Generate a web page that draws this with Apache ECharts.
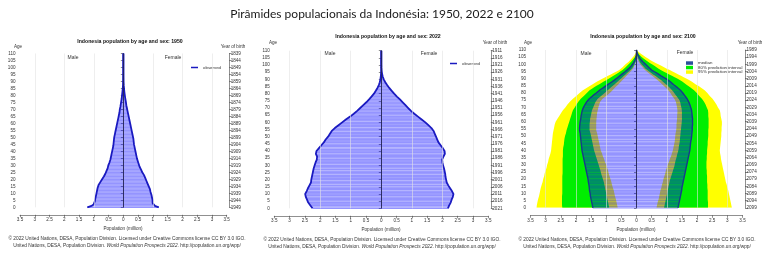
<!DOCTYPE html>
<html><head><meta charset="utf-8">
<script src="https://cdn.jsdelivr.net/npm/echarts@6/dist/echarts.min.js"></script>
<style>html,body{margin:0;padding:0;background:#fff}#c{width:768px;height:253px}</style>
</head><body><div id="c"></div><script>
// ---------- tick labels ----------
const AGE_LABELS = Array.from({length:111}, (_, a) => String(a));
const YEARS = [1950, 2022, 2100];
const X_TICK_MIN = -3.5, X_TICK_MAX = 3.5, X_TICK_STEP = 0.5;
const GRID_VALUES = [-3, -2, -1, 1, 2, 3];

// ---------- data (million), ages 0..110 ----------
const male1950 = [
1.22,1.08,1.01,0.98,0.97,0.96,0.95,0.94,0.93,0.92,
0.91,0.90,0.89,0.88,0.87,0.86,0.84,0.81,0.78,0.75,
0.72,0.69,0.66,0.63,0.61,0.59,0.57,0.55,0.53,0.52,
0.51,0.49,0.47,0.46,0.44,0.43,0.42,0.41,0.40,0.39,
0.38,0.37,0.36,0.35,0.34,0.34,0.33,0.33,0.32,0.32,
0.31,0.30,0.29,0.28,0.27,0.26,0.25,0.24,0.23,0.22,
0.21,0.20,0.19,0.18,0.17,0.16,0.15,0.14,0.13,0.125,
0.12,0.11,0.10,0.092,0.085,0.078,0.07,0.062,0.055,0.05,
0.045,0.04,0.034,0.029,0.024,0.02,0.016,0.013,0.01,0.009,
0.008,0.006,0.005,0.004,0.003,0.002,0.0015,0.001,0.001,0.0005,
0.0005,0,0,0,0,0,0,0,0,0,0];
const female1950 = [
1.20,1.07,1.01,0.99,0.99,0.99,0.98,0.97,0.96,0.95,
0.93,0.92,0.91,0.90,0.88,0.86,0.84,0.82,0.80,0.78,
0.76,0.74,0.72,0.70,0.67,0.64,0.62,0.60,0.57,0.55,
0.53,0.52,0.50,0.49,0.47,0.46,0.45,0.44,0.43,0.42,
0.41,0.40,0.39,0.38,0.37,0.36,0.35,0.35,0.34,0.34,
0.33,0.32,0.31,0.30,0.29,0.28,0.27,0.26,0.25,0.24,
0.23,0.22,0.21,0.20,0.19,0.18,0.17,0.16,0.15,0.14,
0.13,0.12,0.11,0.10,0.095,0.088,0.08,0.072,0.064,0.057,
0.05,0.044,0.038,0.032,0.027,0.023,0.019,0.015,0.012,0.01,
0.008,0.007,0.005,0.004,0.003,0.002,0.0015,0.001,0.001,0.0005,
0.0005,0,0,0,0,0,0,0,0,0,0];
const male2022 = [
2.25,2.28,2.32,2.36,2.39,2.41,2.43,2.45,2.47,2.48,
2.49,2.47,2.44,2.42,2.40,2.38,2.35,2.32,2.30,2.29,
2.29,2.28,2.27,2.26,2.25,2.24,2.23,2.22,2.21,2.19,
2.18,2.17,2.15,2.13,2.11,2.09,2.10,2.12,2.14,2.13,
2.12,2.08,2.04,2.00,1.96,1.92,1.88,1.85,1.82,1.78,
1.74,1.71,1.68,1.65,1.62,1.58,1.52,1.46,1.40,1.34,
1.28,1.22,1.16,1.09,1.02,0.96,0.90,0.84,0.79,0.74,
0.69,0.64,0.59,0.54,0.49,0.44,0.40,0.36,0.32,0.28,
0.24,0.21,0.18,0.15,0.125,0.10,0.08,0.065,0.05,0.04,
0.03,0.022,0.016,0.012,0.009,0.006,0.004,0.003,0.002,0.001,
0.001,0,0,0,0,0,0,0,0,0,0];
const female2022 = [
2.18,2.20,2.22,2.25,2.27,2.28,2.30,2.32,2.34,2.35,
2.36,2.34,2.31,2.28,2.25,2.22,2.19,2.16,2.14,2.12,
2.12,2.11,2.10,2.10,2.09,2.08,2.07,2.06,2.05,2.03,
2.02,2.01,2.00,1.99,1.99,2.00,2.03,2.06,2.08,2.08,
2.07,2.04,2.01,1.98,1.94,1.90,1.87,1.85,1.83,1.81,
1.79,1.77,1.75,1.73,1.71,1.68,1.64,1.59,1.54,1.49,
1.44,1.38,1.32,1.26,1.20,1.14,1.08,1.02,0.97,0.92,
0.88,0.84,0.79,0.75,0.70,0.65,0.61,0.56,0.51,0.47,
0.42,0.38,0.34,0.30,0.26,0.22,0.19,0.16,0.13,0.10,
0.08,0.06,0.045,0.034,0.025,0.018,0.012,0.008,0.005,0.003,
0.002,0,0,0,0,0,0,0,0,0,0];
// 2100 projection: median and prediction intervals
const male2100 = [
1.44,1.45,1.46,1.47,1.48,1.49,1.50,1.51,1.52,1.52,
1.53,1.54,1.55,1.55,1.56,1.57,1.57,1.58,1.59,1.59,
1.60,1.61,1.62,1.63,1.64,1.65,1.66,1.67,1.68,1.69,
1.70,1.71,1.72,1.73,1.74,1.75,1.76,1.77,1.78,1.79,
1.80,1.80,1.81,1.81,1.82,1.82,1.83,1.83,1.84,1.85,
1.85,1.86,1.86,1.87,1.88,1.88,1.88,1.87,1.87,1.86,
1.86,1.85,1.84,1.83,1.83,1.82,1.81,1.80,1.79,1.77,
1.75,1.73,1.70,1.67,1.64,1.61,1.56,1.51,1.45,1.39,
1.33,1.28,1.22,1.15,1.08,1.01,0.94,0.87,0.80,0.73,
0.67,0.61,0.55,0.49,0.43,0.37,0.31,0.26,0.21,0.17,
0.13,0.10,0.07,0.05,0.03,0.02,0.01,0.005,0,0,0];
const male80lo = [
0.90,0.91,0.92,0.93,0.94,0.95,0.96,0.97,0.98,0.99,
1.00,1.01,1.02,1.03,1.04,1.05,1.06,1.07,1.08,1.10,
1.11,1.12,1.14,1.15,1.17,1.18,1.19,1.21,1.22,1.24,
1.25,1.27,1.28,1.30,1.31,1.33,1.34,1.36,1.37,1.39,
1.40,1.41,1.42,1.43,1.44,1.45,1.46,1.47,1.48,1.49,
1.50,1.51,1.52,1.53,1.55,1.55,1.55,1.55,1.55,1.54,
1.54,1.54,1.53,1.52,1.51,1.50,1.49,1.48,1.47,1.45,
1.43,1.41,1.39,1.37,1.35,1.33,1.28,1.23,1.17,1.11,
1.05,1.00,0.95,0.89,0.84,0.78,0.73,0.68,0.62,0.57,
0.52,0.46,0.41,0.36,0.31,0.26,0.20,0.16,0.12,0.09,
0.07,0.05,0.03,0.02,0.01,0.005,0,0,0,0,0];
const male95lo = [
0.62,0.63,0.64,0.65,0.66,0.67,0.68,0.69,0.71,0.72,
0.73,0.74,0.75,0.77,0.78,0.79,0.81,0.82,0.83,0.85,
0.86,0.87,0.89,0.90,0.92,0.93,0.94,0.96,0.97,0.99,
1.00,1.02,1.04,1.06,1.07,1.09,1.11,1.13,1.14,1.16,
1.18,1.19,1.20,1.21,1.22,1.23,1.24,1.25,1.26,1.27,
1.28,1.29,1.30,1.31,1.33,1.33,1.33,1.33,1.33,1.33,
1.33,1.33,1.32,1.32,1.31,1.31,1.30,1.29,1.28,1.27,
1.26,1.24,1.23,1.21,1.20,1.18,1.12,1.06,1.00,0.94,
0.88,0.84,0.79,0.74,0.70,0.65,0.60,0.56,0.51,0.46,
0.42,0.37,0.33,0.28,0.24,0.19,0.15,0.12,0.09,0.07,
0.05,0.03,0.02,0.01,0.005,0,0,0,0,0,0];
const male80hi = [
2.45,2.46,2.46,2.46,2.46,2.46,2.46,2.46,2.46,2.45,
2.45,2.45,2.45,2.45,2.45,2.45,2.45,2.45,2.45,2.45,
2.45,2.45,2.45,2.45,2.44,2.44,2.44,2.44,2.44,2.44,
2.44,2.44,2.44,2.44,2.44,2.43,2.43,2.43,2.43,2.43,
2.43,2.42,2.42,2.41,2.40,2.40,2.39,2.38,2.38,2.37,
2.36,2.35,2.33,2.32,2.31,2.30,2.28,2.27,2.25,2.24,
2.22,2.21,2.19,2.18,2.16,2.15,2.13,2.12,2.10,2.07,
2.04,2.01,1.98,1.95,1.92,1.88,1.84,1.79,1.74,1.69,
1.64,1.60,1.55,1.47,1.40,1.32,1.24,1.16,1.08,1.00,
0.92,0.84,0.76,0.69,0.61,0.54,0.46,0.41,0.36,0.31,
0.26,0.21,0.17,0.13,0.09,0.05,0.02,0.01,0,0,0];
const male95hi = [
3.30,3.30,3.29,3.28,3.27,3.26,3.25,3.24,3.22,3.21,
3.20,3.19,3.18,3.17,3.16,3.14,3.13,3.12,3.10,3.09,
3.08,3.07,3.05,3.04,3.03,3.01,3.00,2.99,2.97,2.96,
2.95,2.94,2.92,2.91,2.90,2.88,2.87,2.86,2.84,2.83,
2.82,2.82,2.81,2.81,2.80,2.80,2.79,2.79,2.78,2.78,
2.77,2.76,2.76,2.75,2.74,2.73,2.72,2.71,2.70,2.69,
2.67,2.64,2.61,2.58,2.55,2.52,2.49,2.46,2.43,2.39,
2.35,2.31,2.28,2.24,2.20,2.16,2.10,2.04,1.99,1.93,
1.88,1.82,1.77,1.69,1.61,1.53,1.46,1.38,1.30,1.22,
1.13,1.03,0.94,0.85,0.76,0.66,0.57,0.52,0.46,0.41,
0.36,0.30,0.25,0.20,0.16,0.12,0.08,0.05,0.02,0,0];
const female2100 = [
1.37,1.38,1.39,1.40,1.41,1.42,1.43,1.44,1.45,1.46,
1.47,1.48,1.49,1.50,1.50,1.51,1.52,1.53,1.54,1.55,
1.56,1.57,1.58,1.59,1.60,1.61,1.62,1.63,1.64,1.65,
1.66,1.67,1.68,1.69,1.70,1.71,1.72,1.73,1.74,1.75,
1.76,1.77,1.77,1.78,1.78,1.79,1.79,1.80,1.81,1.81,
1.82,1.82,1.83,1.83,1.84,1.84,1.84,1.85,1.85,1.85,
1.85,1.85,1.85,1.84,1.84,1.84,1.83,1.83,1.82,1.81,
1.79,1.78,1.76,1.74,1.72,1.70,1.67,1.63,1.60,1.56,
1.53,1.49,1.45,1.39,1.34,1.28,1.22,1.17,1.11,1.05,
0.97,0.89,0.81,0.74,0.66,0.58,0.50,0.45,0.40,0.35,
0.30,0.25,0.20,0.15,0.12,0.09,0.06,0.04,0.02,0.01,0];
const female80lo = [
0.91,0.92,0.93,0.94,0.95,0.96,0.97,0.98,0.99,1.00,
1.01,1.02,1.03,1.04,1.05,1.06,1.07,1.08,1.09,1.10,
1.12,1.13,1.15,1.16,1.18,1.19,1.20,1.22,1.23,1.25,
1.26,1.27,1.28,1.29,1.31,1.32,1.33,1.34,1.35,1.37,
1.38,1.39,1.39,1.40,1.41,1.42,1.42,1.43,1.44,1.44,
1.45,1.45,1.46,1.46,1.47,1.47,1.48,1.48,1.49,1.49,
1.50,1.50,1.50,1.50,1.50,1.50,1.50,1.50,1.50,1.49,
1.48,1.47,1.46,1.45,1.44,1.42,1.39,1.35,1.32,1.28,
1.25,1.21,1.18,1.13,1.08,1.03,0.97,0.92,0.87,0.82,
0.75,0.68,0.62,0.55,0.48,0.42,0.35,0.30,0.26,0.21,
0.17,0.13,0.10,0.08,0.06,0.04,0.02,0.01,0,0,0];
const female95lo = [
0.66,0.67,0.68,0.69,0.70,0.72,0.73,0.74,0.75,0.76,
0.77,0.78,0.79,0.81,0.82,0.83,0.84,0.85,0.87,0.88,
0.89,0.90,0.92,0.93,0.95,0.96,0.97,0.99,1.00,1.02,
1.03,1.05,1.07,1.08,1.10,1.12,1.14,1.15,1.17,1.19,
1.20,1.21,1.22,1.23,1.24,1.25,1.26,1.27,1.27,1.28,
1.28,1.29,1.29,1.30,1.31,1.31,1.32,1.32,1.32,1.33,
1.33,1.34,1.34,1.34,1.34,1.35,1.35,1.35,1.35,1.34,
1.34,1.33,1.32,1.31,1.30,1.28,1.25,1.22,1.18,1.15,
1.12,1.08,1.05,1.00,0.95,0.90,0.85,0.80,0.75,0.70,
0.64,0.58,0.52,0.46,0.40,0.34,0.28,0.24,0.20,0.16,
0.12,0.09,0.07,0.05,0.03,0.02,0.01,0,0,0,0];
const female80hi = [
2.36,2.36,2.36,2.36,2.36,2.36,2.35,2.35,2.35,2.35,
2.35,2.35,2.35,2.34,2.34,2.34,2.34,2.34,2.33,2.33,
2.33,2.33,2.33,2.32,2.32,2.32,2.32,2.32,2.31,2.31,
2.31,2.31,2.31,2.31,2.32,2.32,2.32,2.32,2.33,2.33,
2.33,2.33,2.34,2.34,2.35,2.35,2.35,2.36,2.36,2.37,
2.37,2.37,2.37,2.37,2.37,2.38,2.38,2.38,2.38,2.38,
2.38,2.38,2.38,2.38,2.37,2.37,2.37,2.36,2.36,2.34,
2.32,2.30,2.28,2.25,2.23,2.20,2.16,2.12,2.07,2.03,
1.99,1.94,1.90,1.84,1.77,1.71,1.64,1.58,1.51,1.45,
1.36,1.26,1.17,1.08,0.99,0.89,0.80,0.73,0.66,0.59,
0.51,0.44,0.37,0.30,0.24,0.18,0.12,0.08,0.05,0.02,0];
const female95hi = [
3.15,3.14,3.13,3.12,3.11,3.10,3.09,3.08,3.07,3.06,
3.05,3.04,3.03,3.01,3.00,2.99,2.98,2.96,2.95,2.94,
2.93,2.92,2.91,2.90,2.89,2.88,2.87,2.86,2.85,2.84,
2.83,2.82,2.81,2.80,2.79,2.79,2.78,2.77,2.76,2.75,
2.75,2.75,2.76,2.76,2.77,2.77,2.78,2.78,2.79,2.79,
2.80,2.80,2.80,2.81,2.81,2.81,2.81,2.82,2.82,2.82,
2.82,2.81,2.80,2.79,2.78,2.78,2.77,2.76,2.75,2.72,
2.69,2.66,2.64,2.61,2.58,2.55,2.51,2.47,2.42,2.38,
2.34,2.29,2.25,2.18,2.11,2.04,1.96,1.89,1.82,1.75,
1.66,1.56,1.47,1.38,1.29,1.19,1.10,1.00,0.91,0.82,
0.72,0.63,0.54,0.45,0.38,0.31,0.24,0.17,0.10,0.05,0];

// ---------- layout / style ----------
const GRIDS = [
  {left:20, top:53.5, width:206.7, height:153.8},
  {left:274.3, top:50.7, width:214, height:157.6},
  {left:530.5, top:50, width:212, height:157.8}
];
const TXT = '#333';
const FONT = 'Liberation Sans, Arial, sans-serif';
const AX = {color:'#444', width:0.6};
const BAR_COLOR = 'rgba(0,0,255,0.42)';
const LINE_COLOR = '#1a1ac0';
const MEDIAN_COLOR = '#173a8a';

const grid = [], xAxis = [], yAxis = [], series = [];
GRIDS.forEach((g, i) => {
  grid.push(Object.assign({containLabel:false}, g));
  xAxis.push({type:'value', gridIndex:i, min:X_TICK_MIN, max:X_TICK_MAX, interval:X_TICK_STEP, offset:7.5,
    axisLine:{show:true, lineStyle:AX}, axisTick:{show:true, length:2.5, lineStyle:AX},
    axisLabel:{fontSize:4.6, color:TXT, margin:2.5, fontFamily:FONT, formatter:v => String(Math.abs(v))},
    splitLine:{show:false}});
  yAxis.push({type:'category', gridIndex:i, data:AGE_LABELS, boundaryGap:false, position:'left', offset:3,
    axisLine:{show:true, lineStyle:AX}, axisTick:{show:true, interval:4, length:2.5, lineStyle:AX},
    axisLabel:{interval:4, fontSize:4.6, color:TXT, margin:1.5, fontFamily:FONT}, splitLine:{show:false}});
  const birth = AGE_LABELS.map((_, a) => String(YEARS[i] - 1 - a));
  yAxis.push({type:'category', gridIndex:i, data:birth, boundaryGap:false, position:'right', offset:2.5,
    axisLine:{show:true, lineStyle:AX}, axisTick:{show:true, interval:4, length:2.5, lineStyle:AX},
    axisLabel:{interval:4, fontSize:4.6, color:TXT, margin:1.5, fontFamily:FONT}, splitLine:{show:false}});
  // light vertical grid lines
  series.push({type:'line', xAxisIndex:i, yAxisIndex:i*2, data:AGE_LABELS.map(() => 0), symbol:'none',
    lineStyle:{opacity:0}, z:0, silent:true, animation:false,
    markLine:{silent:true, symbol:['none','none'], label:{show:false}, animation:false,
      lineStyle:{color:'#e3e3e3', width:0.6, type:'solid'}, emphasis:{disabled:true},
      data:GRID_VALUES.map(x => ({xAxis:x}))}});
});

function bars(data, sign, gi) {
  return {type:'bar', xAxisIndex:gi, yAxisIndex:gi*2, stack:'bars'+gi, data:data.map(v => sign*v),
    barCategoryGap:'6%', itemStyle:{color:BAR_COLOR}, z:2, silent:true, animation:false};
}
function outline(name, data, sign, gi, color, width, center) {
  const s = {type:'line', name, xAxisIndex:gi, yAxisIndex:gi*2, data:data.map(v => sign*v), symbol:'none',
    lineStyle:{color, width}, itemStyle:{color}, z:3, silent:true, animation:false};
  if (center) s.markLine = {silent:true, symbol:['none','none'], label:{show:false}, animation:false,
    lineStyle:{color:'#22224e', width:0.8, type:'solid'}, emphasis:{disabled:true}, data:[{xAxis:0}]};
  return s;
}
function band(name, lo, hi, sign, gi, color, key) {
  return [
    {type:'line', xAxisIndex:gi, yAxisIndex:gi*2, stack:key, stackStrategy:'all', data:lo.map(v => sign*v),
      symbol:'none', lineStyle:{width:0, opacity:0}, z:1, silent:true, animation:false},
    {type:'line', name, xAxisIndex:gi, yAxisIndex:gi*2, stack:key, stackStrategy:'all',
      data:hi.map((v, k) => sign*(v - lo[k])), symbol:'none', lineStyle:{width:0, opacity:0},
      areaStyle:{color, opacity:1}, itemStyle:{color}, z:1, silent:true, animation:false}
  ];
}

// 1950
series.push(bars(male1950, -1, 0), bars(female1950, 1, 0));
series.push(outline('observed', male1950, -1, 0, LINE_COLOR, 1.8, true), outline('observed', female1950, 1, 0, LINE_COLOR, 1.8));
// 2022
series.push(bars(male2022, -1, 1), bars(female2022, 1, 1));
series.push(outline('observed', male2022, -1, 1, LINE_COLOR, 1.8, true), outline('observed', female2022, 1, 1, LINE_COLOR, 1.8));
// 2100
series.push(...band('95% prediction interval', male95lo, male95hi, -1, 2, '#ffff00', 'm95'));
series.push(...band('95% prediction interval', female95lo, female95hi, 1, 2, '#ffff00', 'f95'));
series.push(...band('80% prediction interval', male80lo, male80hi, -1, 2, '#00ee00', 'm80'));
series.push(...band('80% prediction interval', female80lo, female80hi, 1, 2, '#00ee00', 'f80'));
series.push(bars(male2100, -1, 2), bars(female2100, 1, 2));
series.push(outline('median', male2100, -1, 2, MEDIAN_COLOR, 1.4, true), outline('median', female2100, 1, 2, MEDIAN_COLOR, 1.4));

const legTxt = {fontSize:4.4, color:TXT, fontFamily:FONT};
const legend = [
  {data:[{name:'observed', icon:'rect', itemStyle:{color:LINE_COLOR}}], left:191, top:65.5, itemWidth:7, itemHeight:1.5,
    padding:0, selectedMode:false, textStyle:legTxt},
  {data:[{name:'observed', icon:'rect', itemStyle:{color:LINE_COLOR}}], left:450, top:61.5, itemWidth:7, itemHeight:1.5,
    padding:0, selectedMode:false, textStyle:legTxt},
  {data:[{name:'median', icon:'rect', itemStyle:{color:'#2a4f9a'}},
         {name:'80% prediction interval', icon:'rect', itemStyle:{color:'#00ee00'}},
         {name:'95% prediction interval', icon:'rect', itemStyle:{color:'#ffff00'}}],
    orient:'vertical', left:686, top:60.8, itemWidth:7, itemHeight:3.5, itemGap:0, padding:0, selectedMode:false,
    textStyle:Object.assign({lineHeight:4.5}, legTxt)}
];

function txt(text, x, y, font, extra) {
  return {type:'text', x, y, silent:true, style:Object.assign({text, font, fill:TXT, align:'center', verticalAlign:'middle'}, extra || {})};
}
const PT = [[130,42],[388,37],[643,37]];
const MALE = [[73,58],[330,54],[586,54]];
const FEMALE = [[173,58],[429,54],[685,53]];
const POP = [[123,229],[381,230],[636,230]];
const AGE = [[18,47],[273,43],[528,43]];
const YOB = [[233,47],[495,43],[750,43]];
const FOOT = [[127,239],[382,240],[637,240]];
const elements = [txt('Pirâmides populacionais da Indonésia: 1950, 2022 e 2100', 382, 14, '12px Lato', {fill:'#1a1a1a'})];
YEARS.forEach((yr, i) => {
  elements.push(txt('Indonesia population by age and sex: ' + yr, PT[i][0], PT[i][1], 'bold 5.2px ' + FONT, {fill:'#111'}));
  elements.push(txt('Male', MALE[i][0], MALE[i][1], '5px ' + FONT));
  elements.push(txt('Female', FEMALE[i][0], FEMALE[i][1], '5px ' + FONT));
  elements.push(txt('Population (million)', POP[i][0], POP[i][1], '4.6px ' + FONT));
  elements.push(txt('Age', AGE[i][0], AGE[i][1], '4.6px ' + FONT));
  elements.push(txt('Year of birth', YOB[i][0], YOB[i][1], '4.6px ' + FONT));
  elements.push(txt('© 2022 United Nations, DESA, Population Division. Licensed under Creative Commons license CC BY 3.0 IGO.',
    FOOT[i][0], FOOT[i][1], '4.8px ' + FONT));
  elements.push(txt('{n|United Nations, DESA, Population Division. }{i|World Population Prospects 2022}{n|. http://population.un.org/wpp/}',
    FOOT[i][0], FOOT[i][1] + 7, '4.8px ' + FONT,
    {rich:{n:{fontSize:4.8, fontFamily:FONT, fill:TXT}, i:{fontSize:4.8, fontFamily:FONT, fontStyle:'italic', fill:TXT}}}));
});

const chart = echarts.init(document.getElementById('c'), null, {renderer:'canvas'});
chart.setOption({animation:false, backgroundColor:'#fff', grid, xAxis, yAxis, series, legend, graphic:{elements}});
</script></body></html>
